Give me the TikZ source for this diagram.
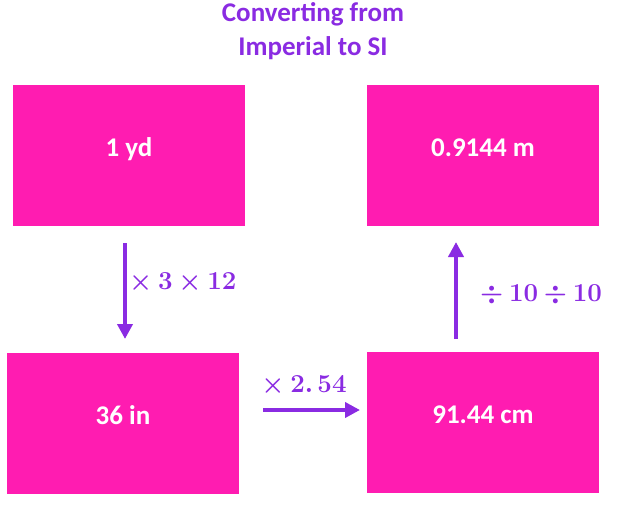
\documentclass[tikz,border=0pt]{standalone}
\usepackage{fontspec}
\usepackage{bm}
\setmainfont{Carlito}
\usetikzlibrary{arrows.meta}
\definecolor{boxpink}{HTML}{FF1CB1}
\definecolor{violetx}{HTML}{8A2BE2}
\newcommand{\lead}[1]{#1\mskip\medmuskip}
\tikzset{
  unitbox/.style={fill=boxpink, draw=none, minimum width=232pt, minimum height=141pt,
    inner sep=0pt, text height=10pt, text depth=8pt, text=white,
    font=\fontsize{27}{30}\selectfont\bfseries},
  conv/.style={draw=violetx, line width=4pt, -{Triangle[length=15pt, width=15pt]}},
  convlabel/.style={text=violetx, font=\fontsize{24}{28}\selectfont, inner sep=0pt,
    scale=1.04, transform shape}
}
\begin{document}
\begin{tikzpicture}[x=1pt, y=-1pt]
\useasboundingbox (0,0) rectangle (625,507);
\node[text=violetx, font=\fontsize{27}{34}\selectfont\bfseries, align=center] (title) at (313,31) {Converting from\\Imperial to SI};
\node[unitbox] (yd) at (129,155) {1 yd};
\node[unitbox] (m) at (483,155.5) {0.9144 m};
\node[unitbox] (in) at (123,423.5) {36 in};
\node[unitbox] (cm) at (483,422.5) {91.44 cm};
\coordinate (a1s) at (125,243);
\coordinate (a1e) at (125,339);
\coordinate (a2s) at (263,410);
\coordinate (a2e) at (360,410);
\coordinate (a3s) at (456,339);
\coordinate (a3e) at (456,242);
\draw[conv] (a1s) -- (a1e);
\draw[conv] (a2s) -- (a2e);
\draw[conv] (a3s) -- (a3e);
\node[convlabel, anchor=west] (l1) at (129,283) {$\bm{\lead{\times} 3 \times 12}$};
\node[convlabel] (l2) at (304,386) {$\bm{\lead{\times} 2.\,54}$};
\node[convlabel, anchor=west] (l3) at (480,295) {$\bm{\lead{\div} 10 \div 10}$};
\end{tikzpicture}
\end{document}
